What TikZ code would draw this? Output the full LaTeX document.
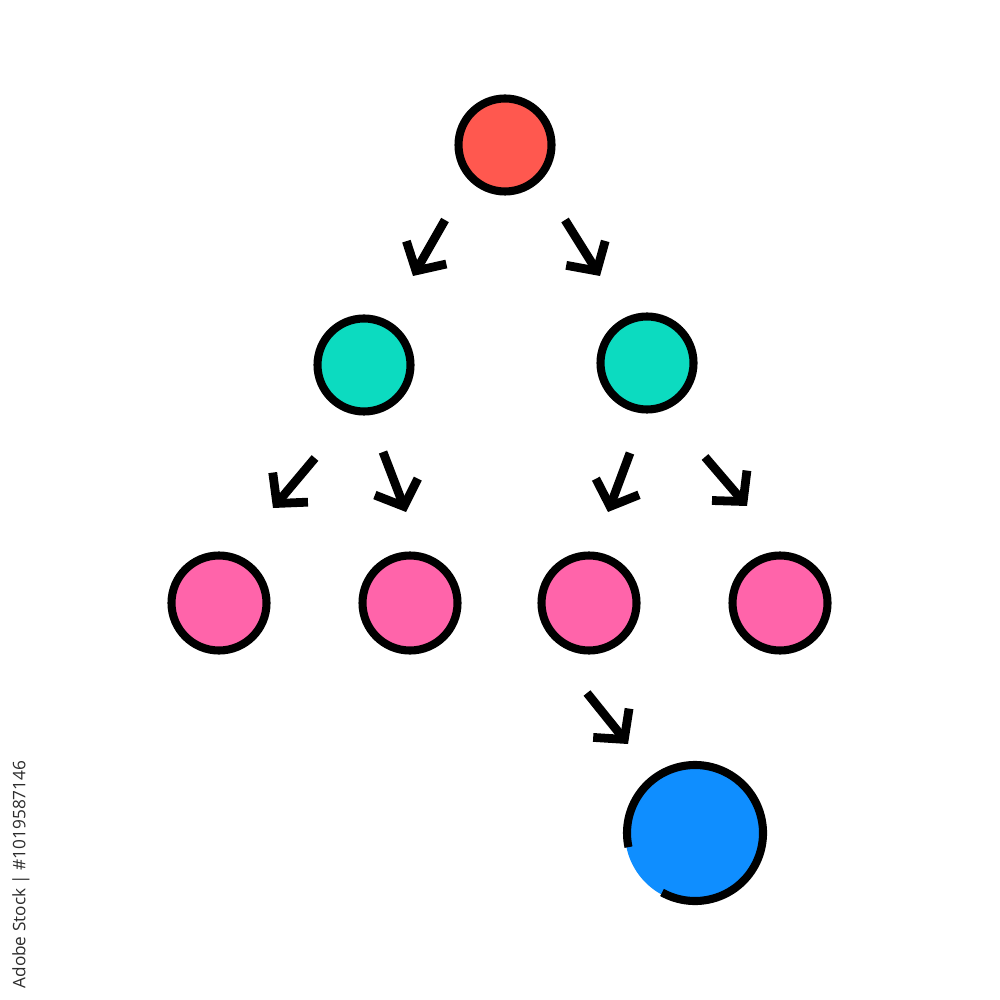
\documentclass[tikz,border=0pt]{standalone}
\usepackage{fontspec}
\newfontfamily\stockfont{Open Sans}
\usetikzlibrary{arrows.meta, positioning, calc}
\definecolor{coral_red}{RGB}{255, 88, 79}
\definecolor{aqua_teal}{RGB}{12, 219, 192}
\definecolor{hot_pink}{RGB}{255, 100, 170}
\definecolor{azure_blue}{RGB}{15, 142, 255}
\definecolor{stock_gray}{RGB}{45, 45, 45}

\begin{document}
\begin{tikzpicture}[
    dot/.style={
        circle,
        draw=black,
        fill=#1,
        line width=2.3pt,
        minimum size=0.93cm,
        inner sep=0pt
    },
    leaf/.style={
        dot=#1,
        minimum size=0.95cm
    },
    step_arrow/.style={
        -{Straight Barb[length=0.21cm, width=0.46cm, line cap=butt, line join=miter]},
        line width=2.5pt,
        line cap=butt,
        #1
    },
]
\useasboundingbox (0,0) rectangle (10,-10);

\node[dot=coral_red] (root) at (5.05,-1.45) {};

\node[dot=aqua_teal] (mid_l) at (3.64,-3.65) {};
\node[dot=aqua_teal] (mid_r) at (6.47,-3.63) {};

\node[leaf=hot_pink] (leaf_a) at (2.19,-6.03) {};
\node[leaf=hot_pink] (leaf_b) at (4.10,-6.03) {};
\node[leaf=hot_pink] (leaf_c) at (5.89,-6.03) {};
\node[leaf=hot_pink] (leaf_d) at (7.80,-6.03) {};

% Blue end circle, outline broken at lower left
\coordinate (goal) at (6.95,-8.33);
\fill[azure_blue] (goal) circle (0.70);
\draw[line width=2.3pt] (goal) ++(-119:0.68) arc (-119:192:0.68);

% Arrow ends
\coordinate (a1_s) at (4.45,-2.20);
\coordinate (a1_e) at (4.13,-2.76);
\coordinate (a2_s) at (5.65,-2.20);
\coordinate (a2_e) at (6.00,-2.76);
\coordinate (a3_s) at (3.15,-4.58);
\coordinate (a3_e) at (2.73,-5.08);
\coordinate (a4_s) at (3.83,-4.52);
\coordinate (a4_e) at (4.06,-5.12);
\coordinate (a5_s) at (6.30,-4.53);
\coordinate (a5_e) at (6.08,-5.12);
\coordinate (a6_s) at (7.05,-4.57);
\coordinate (a6_e) at (7.47,-5.06);
\coordinate (a7_s) at (5.87,-6.93);
\coordinate (a7_e) at (6.28,-7.44);

% Tree arrows
\draw[step_arrow=black] (a1_s) -- (a1_e);
\draw[step_arrow=black] (a2_s) -- (a2_e);
\draw[step_arrow=black] (a3_s) -- (a3_e);
\draw[step_arrow=black] (a4_s) -- (a4_e);
\draw[step_arrow=black] (a5_s) -- (a5_e);
\draw[step_arrow=black] (a6_s) -- (a6_e);
\draw[step_arrow=black] (a7_s) -- (a7_e);

\node[rotate=90, anchor=east, text=stock_gray, font=\stockfont\fontsize{4.9pt}{6pt}\selectfont, inner sep=0pt] (stock) at (0.21,-7.60) {Adobe Stock | \#1019587146};

\end{tikzpicture}
\end{document}
